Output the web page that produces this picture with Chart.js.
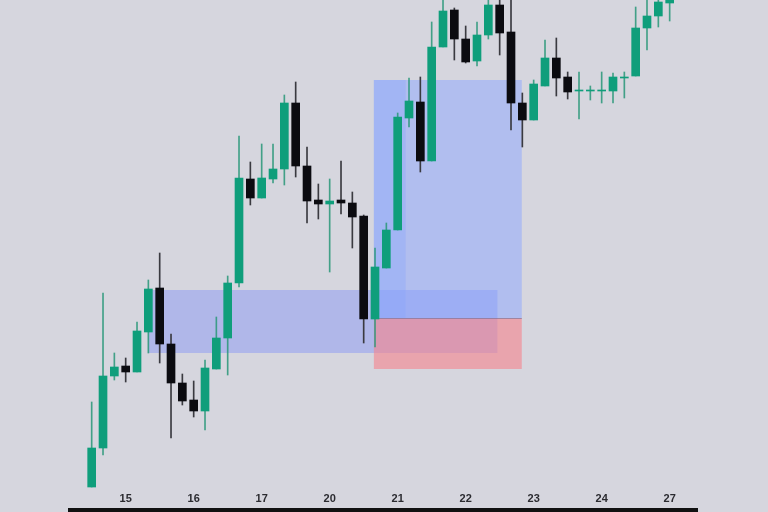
<!DOCTYPE html>
<html>
<head>
<meta charset="utf-8">
<script src="https://cdn.jsdelivr.net/npm/chart.js@4/dist/chart.umd.min.js"></script>
<style>
  html, body { margin: 0; padding: 0; background: #d6d6de; }
  canvas { display: block; }
</style>
</head>
<body>
<canvas id="priceChart" width="768" height="512"></canvas>
<script>
// 4h candles, 6 per day
const openPrices  = [1.2013,1.2052,1.2124,1.2134,1.2128,1.2168,1.2212,1.2156,1.2117,1.2100,
                     1.2089,1.2131,1.2162,1.2217,1.2321,1.2302,1.2321,1.2331,1.2397,1.2334,
                     1.2300,1.2296,1.2300,1.2297,1.2284,1.2181,1.2232,1.2270,1.2382,1.2398,
                     1.2339,1.2453,1.2490,1.2461,1.2439,1.2465,1.2495,1.2468,1.2397,1.2380,
                     1.2414,1.2442,1.2423,1.2409,1.2409,1.2409,1.2409,1.2422,1.2424,1.2472,
                     1.2484,1.2497];
const highPrices  = [1.2098,1.2207,1.2147,1.2142,1.2178,1.2220,1.2247,1.2166,1.2126,1.2119,
                     1.2140,1.2183,1.2224,1.2364,1.2338,1.2356,1.2356,1.2405,1.2418,1.2353,
                     1.2316,1.2321,1.2339,1.2308,1.2285,1.2252,1.2277,1.2387,1.2422,1.2423,
                     1.2478,1.2505,1.2492,1.2474,1.2478,1.2505,1.2505,1.2505,1.2407,1.2420,
                     1.2460,1.2462,1.2428,1.2428,1.2414,1.2428,1.2427,1.2428,1.2493,1.2502,
                     1.2505,1.2505];
const lowPrices   = [1.2013,1.2045,1.2120,1.2118,1.2128,1.2147,1.2137,1.2062,1.2095,1.2083,
                     1.2070,1.2131,1.2125,1.2213,1.2295,1.2302,1.2317,1.2315,1.2323,1.2277,
                     1.2281,1.2228,1.2286,1.2252,1.2157,1.2153,1.2232,1.2270,1.2373,1.2328,
                     1.2339,1.2453,1.2440,1.2437,1.2434,1.2461,1.2445,1.2370,1.2353,1.2380,
                     1.2414,1.2404,1.2401,1.2381,1.2400,1.2397,1.2397,1.2402,1.2424,1.2450,
                     1.2473,1.2479];
const closePrices = [1.2052,1.2124,1.2133,1.2128,1.2169,1.2211,1.2156,1.2117,1.2099,1.2089,
                     1.2132,1.2162,1.2217,1.2322,1.2302,1.2322,1.2331,1.2397,1.2334,1.2299,
                     1.2296,1.2299,1.2297,1.2283,1.2181,1.2233,1.2270,1.2383,1.2399,1.2339,
                     1.2453,1.2489,1.2461,1.2438,1.2465,1.2495,1.2467,1.2397,1.2380,1.2416,
                     1.2442,1.2422,1.2408,1.2410,1.2410,1.2410,1.2423,1.2423,1.2472,1.2484,
                     1.2498,1.2505];

const dayLabels = ['15', '16', '17', '20', '21', '22', '23', '24', '27'];
const dayStartCandle = [3, 9, 15, 21, 27, 33, 39, 45, 51];

// [from candle, to candle, low price, high price]
const demandZone = [5, 35.8, 1.2147, 1.2210];
const targetZone = [24.9, 37.95, 1.2182, 1.2420];
const stopZone   = [24.9, 37.95, 1.2131, 1.2182];
const entryStrip = [24.9, 27.7, 1.2182, 1.2420];

const upColor = '#0f9e7b';
const downColor = '#0b0b10';

let bodies = [], wicks = [], bodyColors = [], wickColors = [];
for (let i = 0; i < openPrices.length; i++) {
    let up = closePrices[i] >= openPrices[i];
    bodies.push({ x: i, y: [openPrices[i], closePrices[i]] });
    wicks.push({ x: i, y: [lowPrices[i], highPrices[i]] });
    bodyColors.push(up ? upColor : downColor);
    wickColors.push(up ? 'rgba(40,150,120,0.85)' : '#3a3a40');
}

function fillZone(chart, zone, color) {
    let xs = chart.scales.x, ys = chart.scales.y, ctx = chart.ctx;
    let x1 = xs.getPixelForValue(zone[0]), x2 = xs.getPixelForValue(zone[1]);
    let y1 = ys.getPixelForValue(zone[3]), y2 = ys.getPixelForValue(zone[2]);
    ctx.fillStyle = color;
    ctx.fillRect(x1, y1, x2 - x1, y2 - y1);
}

const zonesPlugin = {
    id: 'zones',
    beforeDatasetsDraw(chart) {
        let ctx = chart.ctx;
        ctx.save();
        fillZone(chart, demandZone, 'rgba(100,120,255,0.33)');
        fillZone(chart, targetZone, 'rgba(140,165,255,0.5)');
        fillZone(chart, entryStrip, 'rgba(130,160,255,0.3)');
        fillZone(chart, stopZone, 'rgba(245,130,140,0.6)');
        // entry line
        let xs = chart.scales.x, ys = chart.scales.y;
        let ey = Math.round(ys.getPixelForValue(stopZone[3])) + 0.5;
        ctx.strokeStyle = 'rgba(110,110,150,0.6)';
        ctx.lineWidth = 1;
        ctx.beginPath();
        ctx.moveTo(xs.getPixelForValue(stopZone[0]), ey);
        ctx.lineTo(xs.getPixelForValue(stopZone[1]), ey);
        ctx.stroke();
        ctx.restore();
    },
    afterDraw(chart) {
        let ctx = chart.ctx, area = chart.chartArea, xs = chart.scales.x;
        ctx.save();
        ctx.fillStyle = '#111';
        ctx.fillRect(area.left, xs.bottom - 4, area.right - area.left, 4);
        ctx.restore();
    }
};

let ctx = document.getElementById('priceChart').getContext('2d');
let priceChart = new Chart(ctx, {
    type: 'bar',
    data: {
        datasets: [{
            label: 'Body',
            data: bodies,
            backgroundColor: bodyColors,
            barThickness: 8,
            minBarLength: 1,
            order: 0
        }, {
            label: 'Wick',
            data: wicks,
            backgroundColor: wickColors,
            barThickness: 1,
            order: 1
        }]
    },
    options: {
        responsive: false,
        animation: false,
        maintainAspectRatio: false,
        layout: { padding: { left: 68, right: 70, top: 0, bottom: 0 } },
        datasets: { bar: { grouped: false } },
        plugins: {
            legend: { display: false },
            tooltip: { enabled: false }
        },
        scales: {
            x: {
                type: 'linear',
                offset: false,
                min: -2.09,
                max: 53.5,
                grid: { display: false, drawTicks: false },
                border: { display: false },
                afterBuildTicks: function(scale) {
                    scale.ticks = dayStartCandle.map(v => ({ value: v }));
                },
                afterFit: function(scale) { scale.height = 22; },
                ticks: {
                    padding: 2,
                    autoSkip: false,
                    maxRotation: 0,
                    color: '#2b2b30',
                    font: { family: 'Liberation Sans Narrow, Liberation Sans, sans-serif', size: 11, weight: 'bold' },
                    callback: function(value, index) { return dayLabels[index]; }
                }
            },
            y: {
                display: false,
                min: 1.2010,
                max: 1.2500
            }
        }
    },
    plugins: [zonesPlugin]
});
</script>
</body>
</html>
